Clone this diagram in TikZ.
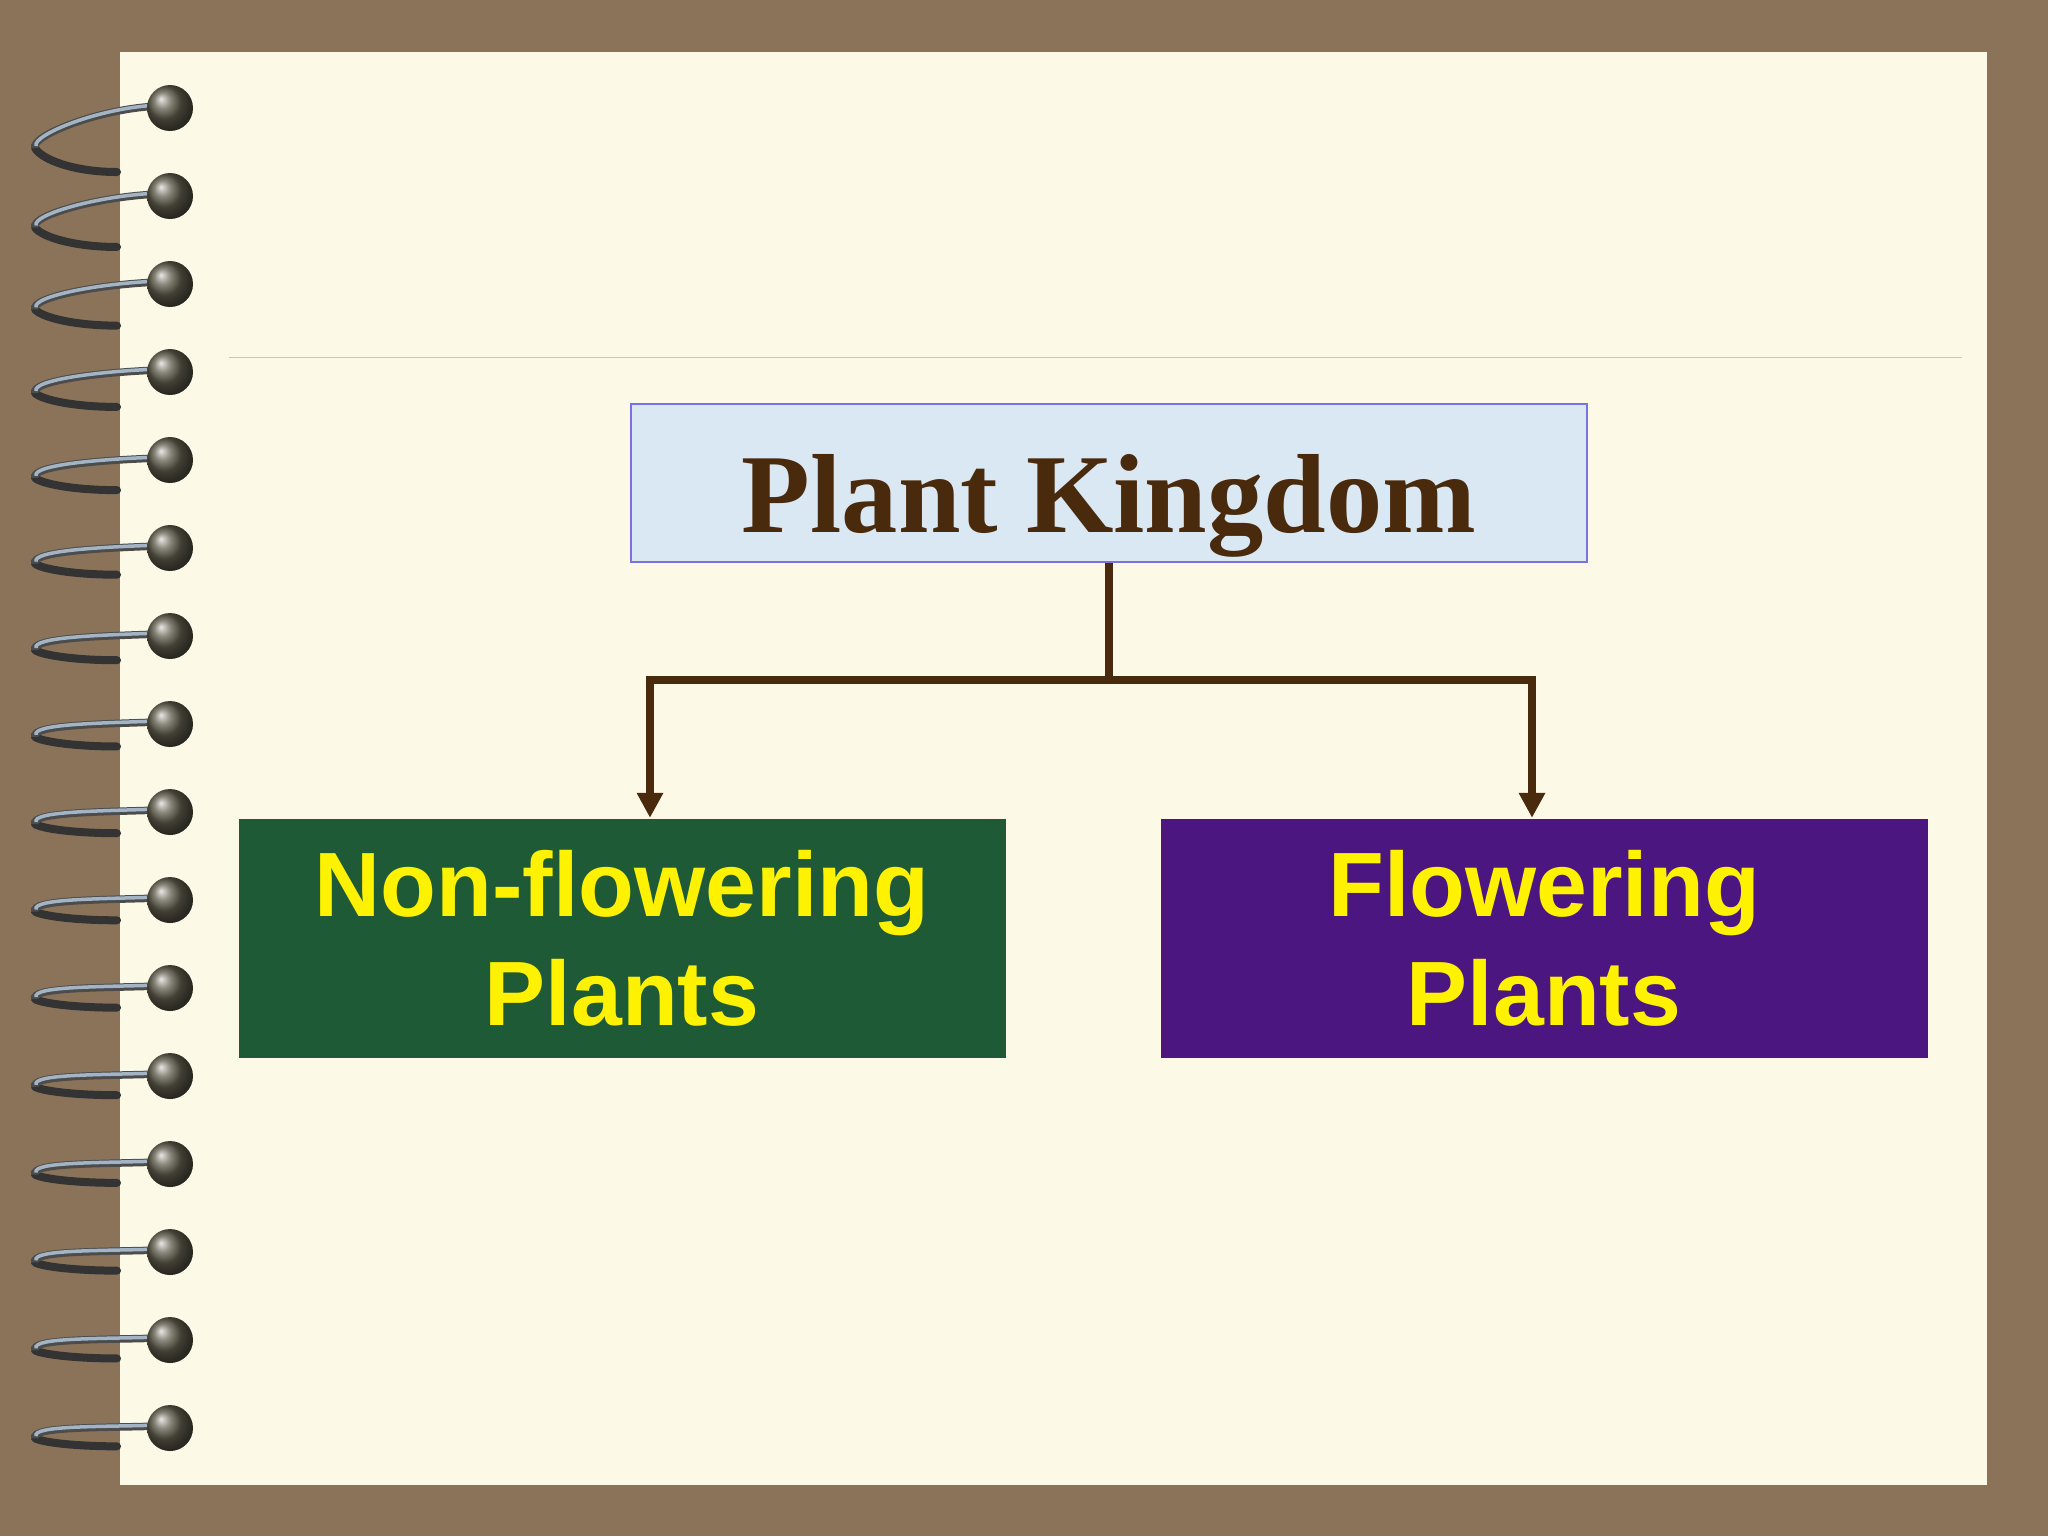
\documentclass[tikz,border=0pt]{standalone}
\usepackage{fontspec}
\setmainfont{Liberation Serif}
\setsansfont{Liberation Sans}
\usetikzlibrary{arrows.meta,positioning}
\definecolor{cover}{HTML}{8B7359}
\definecolor{paper}{HTML}{FDF9E7}
\definecolor{rulecol}{HTML}{C9CBAE}
\definecolor{ink}{HTML}{4A2A0C}
\definecolor{skyfill}{HTML}{D9E8F3}
\definecolor{skyedge}{HTML}{7A72E0}
\definecolor{moss}{HTML}{1F5A36}
\definecolor{grape}{HTML}{4B167F}
\definecolor{wire}{HTML}{A3B4C4}
\definecolor{bead}{HTML}{5F5C4B}

\begin{document}
\begin{tikzpicture}[x=0.1mm,y=-0.1mm,
  topbox/.style={draw=skyedge,line width=0.25mm,fill=skyfill,minimum width=95.6mm,
    minimum height=15.8mm,inner sep=0pt,text=ink,text height=27.9pt,text depth=0pt,
    font=\fontsize{32}{36}\selectfont\bfseries},
  groupbox/.style={fill=#1,minimum width=76.7mm,minimum height=23.9mm,inner sep=0pt,
    align=center,text=yellow,font=\sffamily\bfseries\fontsize{26}{31}\selectfont},
  link/.style={draw=ink,line width=0.8mm},
  arrow/.style={link,-{Triangle[width=2.5mm,length=2.5mm]}}]
\useasboundingbox (0,0) rectangle (2048,1536);
\fill[cover] (0,0) rectangle (2048,1536);
\fill[paper] (120,52) rectangle (1987,1485);
\draw[rulecol,line width=0.1mm] (229,357) -- (1962,357);
% spiral binding, loops flatten towards the bottom
\foreach \k in {0,...,15} {
\pgfmathsetmacro\lm{10+30*exp(-\k/3)}
\pgfmathsetmacro\en{18+46*exp(-\k/3)}
\begin{scope}[shift={(170,108+88*\k)}]
\draw[black!80,line width=0.8mm,line cap=round] (-135,\lm) .. controls (-128,\lm+0.5*\en-0.5*\lm) and (-95,\en) .. (-53,\en);
\draw[black!70,line width=0.75mm] (-10,-2) .. controls (-70,0) and (-140,\lm-12) .. (-135,\lm);
\draw[wire,line width=0.35mm] (-10,-3) .. controls (-70,-1) and (-138,\lm-13) .. (-134,\lm-2);
\shade[ball color=bead] (0,0) circle (23);
\end{scope}
}
% chart
\node[topbox] (kingdom) at (1109,483) {Plant Kingdom};
\node[groupbox=moss] (nonflow) at (622,938) {Non-flowering\\Plants};
\node[groupbox=grape] (flow) at (1544,938) {Flowering\\Plants};
\coordinate (split) at (1109,680);
\draw[link] (kingdom.south) -- (split);
\draw[arrow] (split) -| ([xshift=2.8mm]nonflow.north);
\draw[arrow] (split) -| ([xshift=-1.2mm]flow.north);
\end{tikzpicture}
\end{document}
